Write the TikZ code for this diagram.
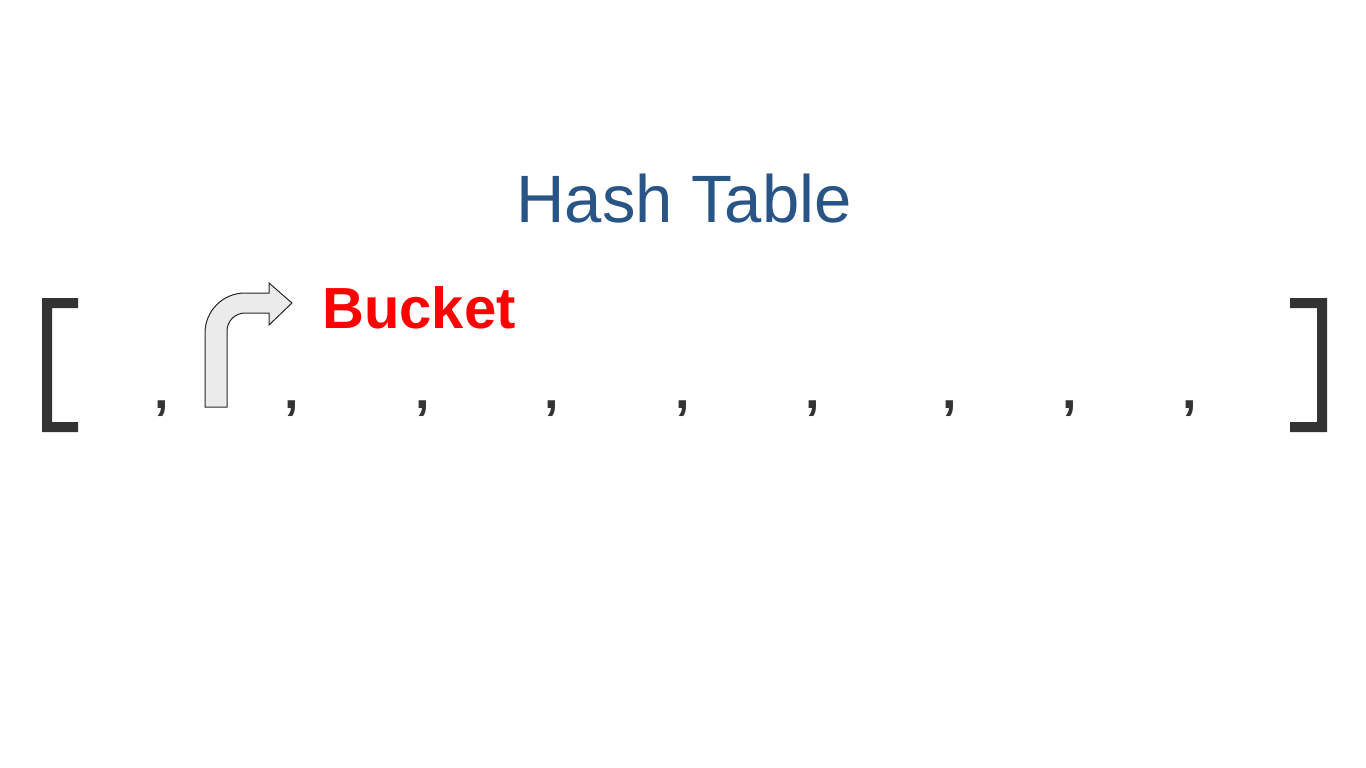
\documentclass[tikz,border=0pt]{standalone}
\usepackage{fontspec}
\setmainfont{Liberation Sans}
\begin{document}
\begin{tikzpicture}[x=1pt,y=-1pt,
  brk/.style={fill=black!80,draw=none},
  commastyle/.style={font=\fontsize{52}{52}\selectfont\bfseries,text=black!80,inner sep=0,anchor=base}]
\useasboundingbox (0,0) rectangle (1366,768);
\node[font=\fontsize{67}{67}\selectfont,text={rgb,255:red,40;green,84;blue,134},anchor=base] (title) at (684,222) {Hash Table};
\node[font=\fontsize{58}{58}\selectfont\bfseries,text=red,anchor=base west,inner sep=0] (bucket) at (322,328) {Bucket};
% brackets
\fill[brk] (42,298) -- (78,298) -- (78,308) -- (52,308) -- (52,422) -- (78,422) -- (78,432) -- (42,432) -- cycle;
\fill[brk] (1327,298) -- (1290,298) -- (1290,308) -- (1317,308) -- (1317,422) -- (1290,422) -- (1290,432) -- (1327,432) -- cycle;
% commas
\foreach \x [count=\i] in {162,292,423,552,683,813,950,1070,1190}
  \node[commastyle] (c\i) at (\x,408) {,};
% arrow
\draw[fill=black!8,draw=black!85,line width=1pt,line join=miter]
  (205,407) -- (205,333) arc[start angle=180,end angle=270,radius=40] -- (269,293) -- (269,283) -- (292,303) -- (269,325) -- (269,313) -- (245,313)
  arc[start angle=270,end angle=180,radius=18] -- (227,407) -- cycle;
\end{tikzpicture}
\end{document}
